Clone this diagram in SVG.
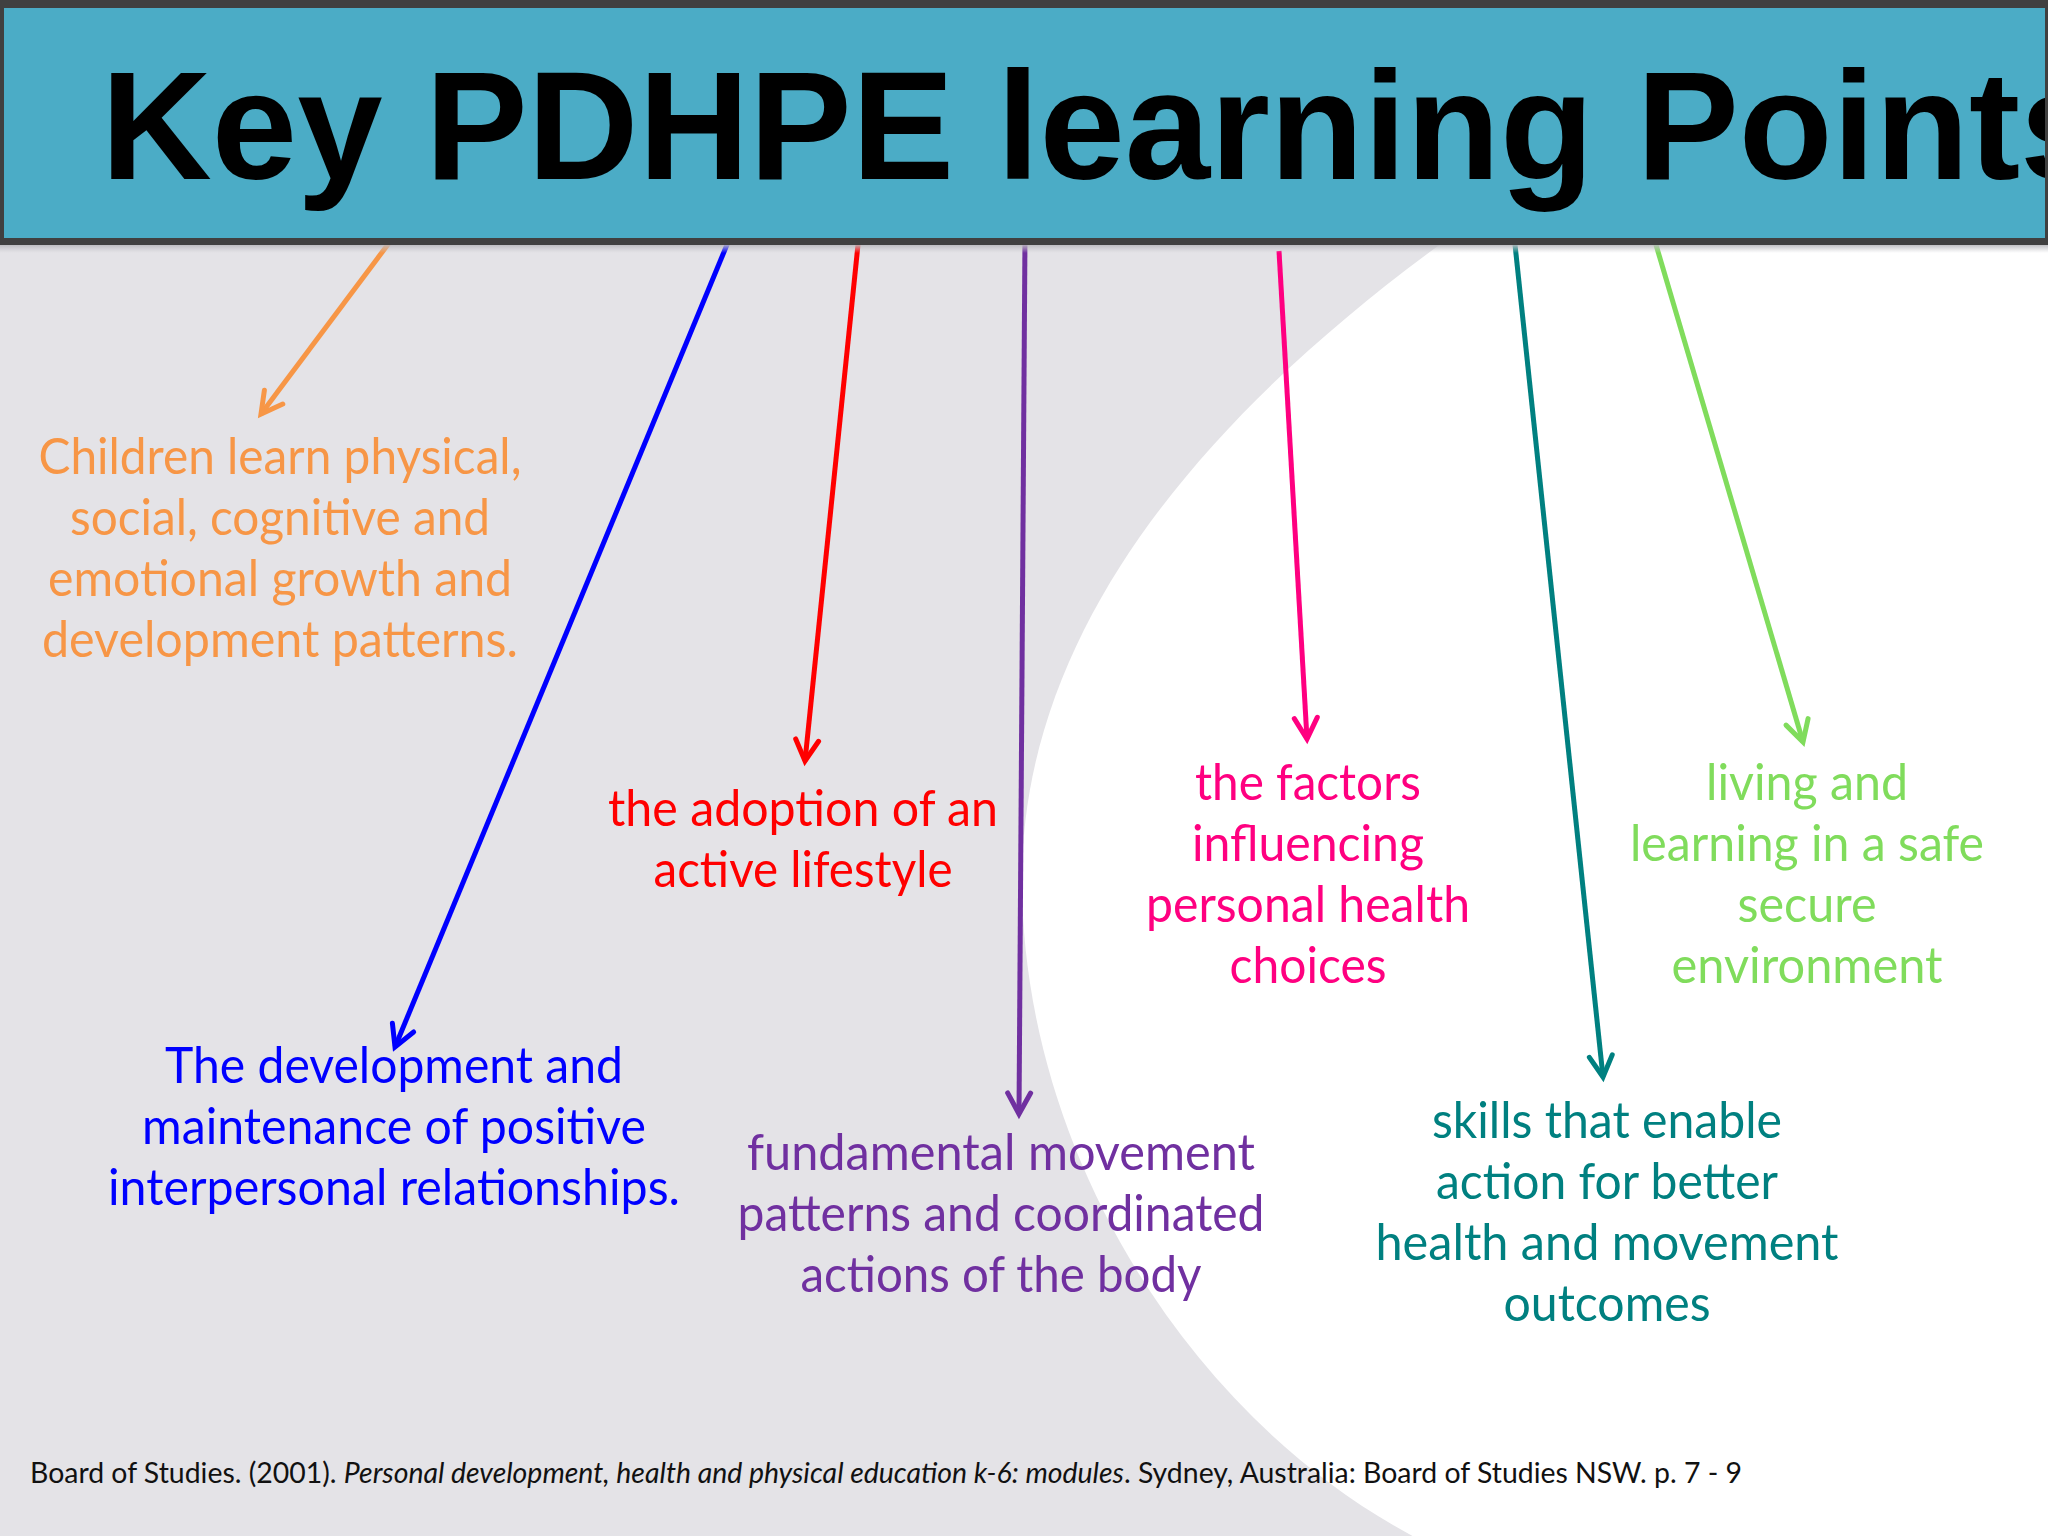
<svg xmlns="http://www.w3.org/2000/svg" width="2048" height="1536" viewBox="0 0 2048 1536">
  <style>
    .lbl { font-family: Lato, "Open Sans", "Liberation Sans", sans-serif; font-size: 51px; text-anchor: middle; }
    .conn { fill: none; stroke-width: 5; stroke-linecap: butt; }
    .ah { fill: none; stroke-width: 5; stroke-linecap: round; stroke-linejoin: miter; }
    .orange { fill: #F79646; } .blue { fill: #0000FF; } .red { fill: #FF0000; } .purple { fill: #7030A0; }
    .pink { fill: #FF0080; } .teal { fill: #008080; } .green { fill: #80DC5C; }
  </style>
  <defs>
    <clipPath id="bandClip"><rect x="4" y="8" width="2041" height="230"/></clipPath>
    <linearGradient id="shadowGrad" x1="0" y1="0" x2="0" y2="1">
      <stop offset="0" stop-color="#B8B8BC" stop-opacity="0.9"/>
      <stop offset="1" stop-color="#C8C8CC" stop-opacity="0"/>
    </linearGradient>
    <marker id="ah-orange" viewBox="-26 -16 32 32" refX="0" refY="0" markerWidth="32" markerHeight="32" markerUnits="userSpaceOnUse" orient="auto"><path class="ah" d="M-21,-11.5 L0,0 L-21,11.5" stroke="#F79646"/></marker>
    <marker id="ah-blue" viewBox="-26 -16 32 32" refX="0" refY="0" markerWidth="32" markerHeight="32" markerUnits="userSpaceOnUse" orient="auto"><path class="ah" d="M-21,-11.5 L0,0 L-21,11.5" stroke="#0000FF"/></marker>
    <marker id="ah-red" viewBox="-26 -16 32 32" refX="0" refY="0" markerWidth="32" markerHeight="32" markerUnits="userSpaceOnUse" orient="auto"><path class="ah" d="M-21,-11.5 L0,0 L-21,11.5" stroke="#FF0000"/></marker>
    <marker id="ah-purple" viewBox="-26 -16 32 32" refX="0" refY="0" markerWidth="32" markerHeight="32" markerUnits="userSpaceOnUse" orient="auto"><path class="ah" d="M-21,-11.5 L0,0 L-21,11.5" stroke="#7030A0"/></marker>
    <marker id="ah-pink" viewBox="-26 -16 32 32" refX="0" refY="0" markerWidth="32" markerHeight="32" markerUnits="userSpaceOnUse" orient="auto"><path class="ah" d="M-21,-11.5 L0,0 L-21,11.5" stroke="#FF0080"/></marker>
    <marker id="ah-teal" viewBox="-26 -16 32 32" refX="0" refY="0" markerWidth="32" markerHeight="32" markerUnits="userSpaceOnUse" orient="auto"><path class="ah" d="M-21,-11.5 L0,0 L-21,11.5" stroke="#008080"/></marker>
    <marker id="ah-green" viewBox="-26 -16 32 32" refX="0" refY="0" markerWidth="32" markerHeight="32" markerUnits="userSpaceOnUse" orient="auto"><path class="ah" d="M-21,-11.5 L0,0 L-21,11.5" stroke="#80DC5C"/></marker>
  </defs>

  <!-- background -->
  <rect x="0" y="0" width="2048" height="1536" fill="#E4E3E7"/>
  <path d="M1460,230 C1250,380 1022,600 1022,880 C1022,1150 1190,1430 1440,1550 L2048,1550 L2048,230 Z" fill="#FFFFFF"/>

  <!-- connectors -->
  <g id="connectors">
    <line class="conn" x1="395" y1="235" x2="261" y2="414" stroke="#F79646" marker-end="url(#ah-orange)"/>
    <line class="conn" x1="731" y1="235" x2="395" y2="1047" stroke="#0000FF" marker-end="url(#ah-blue)"/>
    <line class="conn" x1="859" y1="235" x2="805" y2="761" stroke="#FF0000" marker-end="url(#ah-red)"/>
    <line class="conn" x1="1025" y1="235" x2="1019" y2="1114" stroke="#7030A0" marker-end="url(#ah-purple)"/>
    <line class="conn" x1="1279" y1="251" x2="1307" y2="739" stroke="#FF0080" marker-end="url(#ah-pink)"/>
    <line class="conn" x1="1514" y1="235" x2="1603" y2="1077" stroke="#008080" marker-end="url(#ah-teal)"/>
    <line class="conn" x1="1654" y1="238" x2="1803" y2="742" stroke="#80DC5C" marker-end="url(#ah-green)"/>
  </g>

  <!-- title band -->
  <g id="title">
    <rect x="0" y="245" width="2048" height="8" fill="url(#shadowGrad)"/>
    <rect x="0" y="0" width="2048" height="245" fill="#404040"/>
    <rect x="4" y="8" width="2041" height="230" fill="#4BACC6"/>
    <text x="101" y="179" clip-path="url(#bandClip)" font-family="'Liberation Sans', Arial, sans-serif" font-weight="bold" font-size="153.5" fill="#000000">Key PDHPE learning Points</text>
  </g>

  <g id="node-growth" class="orange">
    <text class="lbl" x="280" y="474" textLength="483" lengthAdjust="spacingAndGlyphs">Children learn physical,</text>
    <text class="lbl" x="280" y="535" textLength="420" lengthAdjust="spacingAndGlyphs">social, cognitive and</text>
    <text class="lbl" x="280" y="596" textLength="464" lengthAdjust="spacingAndGlyphs">emotional growth and</text>
    <text class="lbl" x="280" y="657" textLength="476" lengthAdjust="spacingAndGlyphs">development patterns.</text>
  </g>

  <g id="node-relationships" class="blue">
    <text class="lbl" x="394" y="1083" textLength="458" lengthAdjust="spacingAndGlyphs">The development and</text>
    <text class="lbl" x="394" y="1144" textLength="504" lengthAdjust="spacingAndGlyphs">maintenance of positive</text>
    <text class="lbl" x="394" y="1205" textLength="572" lengthAdjust="spacingAndGlyphs">interpersonal relationships.</text>
  </g>

  <g id="node-lifestyle" class="red">
    <text class="lbl" x="803" y="826" textLength="390" lengthAdjust="spacingAndGlyphs">the adoption of an</text>
    <text class="lbl" x="803" y="887" textLength="299" lengthAdjust="spacingAndGlyphs">active lifestyle</text>
  </g>

  <g id="node-movement" class="purple">
    <text class="lbl" x="1001" y="1170" textLength="508" lengthAdjust="spacingAndGlyphs">fundamental movement</text>
    <text class="lbl" x="1001" y="1231" textLength="527" lengthAdjust="spacingAndGlyphs">patterns and coordinated</text>
    <text class="lbl" x="1001" y="1292" textLength="401" lengthAdjust="spacingAndGlyphs">actions of the body</text>
  </g>

  <g id="node-factors" class="pink">
    <text class="lbl" x="1308" y="800" textLength="226" lengthAdjust="spacingAndGlyphs">the factors</text>
    <text class="lbl" x="1308" y="861" textLength="232" lengthAdjust="spacingAndGlyphs">influencing</text>
    <text class="lbl" x="1308" y="922" textLength="324" lengthAdjust="spacingAndGlyphs">personal health</text>
    <text class="lbl" x="1308" y="983" textLength="157" lengthAdjust="spacingAndGlyphs">choices</text>
  </g>

  <g id="node-skills" class="teal">
    <text class="lbl" x="1607" y="1138" textLength="350" lengthAdjust="spacingAndGlyphs">skills that enable</text>
    <text class="lbl" x="1607" y="1199" textLength="342" lengthAdjust="spacingAndGlyphs">action for better</text>
    <text class="lbl" x="1607" y="1260" textLength="463" lengthAdjust="spacingAndGlyphs">health and movement</text>
    <text class="lbl" x="1607" y="1321" textLength="207" lengthAdjust="spacingAndGlyphs">outcomes</text>
  </g>

  <g id="node-environment" class="green">
    <text class="lbl" x="1807" y="800" textLength="202" lengthAdjust="spacingAndGlyphs">living and</text>
    <text class="lbl" x="1807" y="861" textLength="354" lengthAdjust="spacingAndGlyphs">learning in a safe</text>
    <text class="lbl" x="1807" y="922" textLength="139" lengthAdjust="spacingAndGlyphs">secure</text>
    <text class="lbl" x="1807" y="983" textLength="271" lengthAdjust="spacingAndGlyphs">environment</text>
  </g>

  <g id="footer">
    <text x="30" y="1483" font-family="Lato, 'Open Sans', sans-serif" font-size="28.4" fill="#111111" textLength="1712" lengthAdjust="spacingAndGlyphs">Board of Studies. (2001). <tspan font-style="italic">Personal development, health and physical education k-6: modules</tspan>. Sydney, Australia: Board of Studies NSW. p. 7 - 9</text>
  </g>
</svg>
